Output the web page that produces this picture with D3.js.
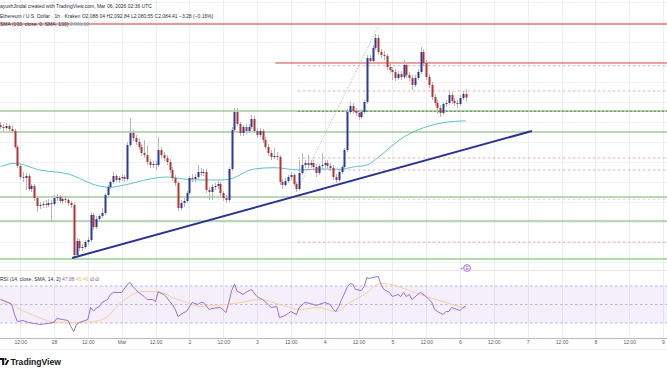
<!DOCTYPE html>
<html>
<head>
<meta charset="utf-8">
<script src="https://cdn.jsdelivr.net/npm/d3@7"></script>
<style>
  body { margin: 0; background: #fff; }
  svg { display: block; font-family: "Liberation Sans", Arial, sans-serif; }
</style>
</head>
<body>
<script>
// ETH/USD 1h, Kraken — first candle Feb 27 05:00 UTC
const firstCandle = Date.UTC(2026, 1, 27, 5);
const hour = 3600 * 1000;

// [open, high, low, close]
const candles = [
  [2057,2060,2053,2055],[2055,2058,2051,2054],[2054,2059,2052,2056],[2056,2058,2051,2053],[2053,2057,2049,2051],
  [2051,2053,2033,2035],[2035,2037,2014,2016],[2016,2018,2002,2005],[2005,2010,2000,2004],[2004,2009,1992,2006],
  [2006,2008,1991,1993],[1993,1998,1990,1996],[1996,1998,1981,1984],[1984,1986,1970,1976],[1976,1980,1973,1977],
  [1977,1981,1974,1978],[1978,1982,1974,1977],[1977,1983,1975,1979],[1979,1982,1960,1978],[1978,1987,1976,1984],
  [1984,1988,1981,1985],[1985,1987,1979,1981],[1981,1985,1978,1983],[1983,1986,1979,1982],[1982,1984,1976,1979],
  [1979,1981,1974,1977],[1977,1979,1925,1927],[1927,1944,1926,1941],[1941,1943,1931,1934],[1934,1938,1931,1935],
  [1935,1942,1933,1940],[1940,1945,1937,1942],[1942,1970,1940,1967],[1967,1969,1952,1955],[1955,1966,1953,1963],
  [1963,1968,1960,1966],[1966,1974,1964,1969],[1969,1989,1967,1987],[1987,1997,1985,1995],[1995,2002,1993,2000],
  [2000,2010,1998,2006],[2006,2008,2000,2002],[2002,2006,1999,2004],[2004,2008,2001,2005],[2005,2007,2000,2003],
  [2003,2040,2001,2037],[2037,2064,2035,2049],[2049,2052,2041,2044],[2044,2047,2037,2040],[2040,2044,2032,2035],
  [2035,2038,2026,2029],[2029,2042,2024,2027],[2027,2037,2017,2020],[2020,2023,2014,2017],[2017,2021,2014,2018],
  [2018,2021,2012,2017],[2017,2045,2015,2032],[2032,2035,2024,2027],[2027,2030,2021,2024],[2024,2027,2017,2020],
  [2020,2023,2009,2012],[2012,2015,2001,2004],[2004,2007,1996,1999],[1999,2001,1971,1974],[1974,1982,1972,1979],
  [1979,1984,1975,1981],[1981,1991,1979,1989],[1989,2006,1987,2004],[2004,2008,2000,2003],[2003,2008,2000,2005],
  [2005,2017,2003,2010],[2010,2014,2006,2009],[2009,2013,2006,2010],[2010,2013,1989,1992],[1992,1995,1982,1990],
  [1990,1998,1982,1995],[1995,1999,1992,1996],[1996,2001,1993,1998],[1998,2000,1986,1989],[1989,1991,1981,1984],
  [1984,1987,1979,1982],[1982,2015,1980,2013],[2013,2055,2011,2052],[2052,2074,2050,2070],[2070,2074,2056,2058],
  [2058,2060,2046,2049],[2049,2057,2046,2055],[2055,2058,2048,2051],[2051,2058,2049,2055],[2055,2067,2053,2063],
  [2063,2066,2049,2051],[2051,2054,2044,2047],[2047,2054,2045,2051],[2051,2053,2039,2042],[2042,2045,2033,2035],
  [2035,2038,2026,2029],[2029,2032,2022,2025],[2025,2034,2023,2026],[2026,2030,2022,2025],[2025,2027,1997,2000],
  [2000,2003,1993,1997],[1997,2004,1995,2001],[2001,2007,1999,2005],[2005,2010,2002,2007],[2007,2009,1996,1998],
  [1998,2000,1990,1993],[1993,2022,1991,2009],[2009,2029,2007,2017],[2017,2022,2014,2019],[2019,2027,2014,2017],
  [2017,2022,2014,2019],[2019,2022,2012,2015],[2015,2018,2005,2009],[2009,2018,2007,2016],[2016,2029,2013,2017],
  [2017,2022,2014,2019],[2019,2022,2013,2016],[2016,2019,2011,2014],[2014,2017,2002,2005],[2005,2008,1999,2002],
  [2002,2012,2000,2010],[2010,2017,2008,2015],[2015,2034,2013,2032],[2032,2073,2030,2070],[2070,2080,2068,2076],
  [2076,2079,2068,2071],[2071,2074,2066,2069],[2069,2072,2062,2065],[2065,2073,2063,2070],[2070,2082,2068,2080],
  [2080,2127,2078,2124],[2124,2127,2118,2121],[2121,2137,2119,2134],[2134,2148,2132,2144],[2144,2147,2127,2130],
  [2130,2133,2124,2127],[2127,2131,2122,2126],[2126,2128,2112,2115],[2115,2118,2109,2112],[2112,2115,2102,2110],
  [2110,2113,2101,2104],[2104,2111,2102,2108],[2108,2111,2102,2105],[2105,2122,2103,2117],[2117,2120,2104,2107],
  [2107,2110,2101,2104],[2104,2107,2092,2097],[2097,2107,2095,2104],[2104,2113,2102,2110],[2110,2135,2108,2130],
  [2130,2133,2116,2119],[2119,2122,2102,2105],[2105,2108,2094,2097],[2097,2100,2082,2085],[2085,2088,2076,2079],
  [2079,2082,2068,2074],[2074,2077,2065,2069],[2069,2080,2067,2078],[2078,2082,2075,2079],[2079,2091,2077,2087],
  [2087,2090,2078,2081],[2081,2084,2076,2079],[2079,2082,2074,2078],[2078,2087,2076,2084],[2084,2091,2082,2088.04],
  [2088.04,2092.84,2080.55,2084.41]
];

// SMA 100 (hours from first candle, value)
const smaHours  = [0, 5, 14, 24, 35, 39, 44, 53, 59, 65, 71, 78, 81, 90, 97, 106, 113, 121, 125, 130, 135, 142, 145, 152, 157, 165];
const smaValues = [2015.3, 2018.7, 2012, 2008, 1996, 1994.7, 1997, 2003, 2005, 2003, 2002, 2002, 2002.7, 2013, 2014.3, 2012, 2013, 2012.7, 2015, 2017, 2027, 2043, 2048, 2056, 2059.3, 2061.18];

// RSI 14
const rsiHours  = [0,2,4,5,6,8,10,12,14,17,19,20,22,24,25,26,27,28,31,32,33,34,35,36,38,39,40,42,43,45,46,47,48,49,51,52,54,55,56,57,58,59,60,61,62,63,65,66,68,70,71,72,74,75,78,80,81,82,83,84,85,86,87,89,91,93,95,96,98,99,101,103,105,106,108,110,112,113,115,117,118,119,120,121,123,124,125,126,128,129,130,131,132,134,135,136,138,139,141,142,143,144,145,146,148,149,151,152,153,154,155,157,158,159,160,161,162,163,164,165];
const rsiValues = [55.4,53.2,50,39.2,31.6,32.7,30.5,29.5,28.4,29.5,30.5,34.9,33.8,32.7,26.2,20.8,28.4,30.5,33.8,46.8,43,46,47.8,52.2,55.4,60.8,63,63,63,71.6,73.8,69.5,66.2,63,58.6,55.4,55.4,53.2,64,62,60.8,57.6,53.2,50,44.6,37,41.4,42.4,52.2,50,52.2,52.2,44.6,45.7,46.8,41.4,52,65,72,64,63,60.8,63,66.2,58.6,55.4,50,46.8,47.8,35.9,38.1,42.4,39.2,46.8,52.2,51.1,48.9,50,52.2,50,44.6,42.4,47.8,55.4,68.4,72.7,71.6,66.2,65.1,69.5,79.2,78.1,79.2,80.3,71.6,66.2,63,58.6,60.8,58.6,63,58.6,60.8,55.4,60.8,63,58.6,55.4,52.2,44.6,42.4,39.2,42.4,42.4,46.8,45.7,44.6,43.5,46.8,47.88];

// RSI-based SMA 14
const rsiMaHours  = [0, 3, 7, 12, 18, 24, 28, 33, 38, 42, 47, 50, 53, 57, 61, 66, 71, 75, 80, 85, 92, 99, 106, 113, 119, 124, 129, 135, 141, 146, 152, 158, 165];
const rsiMaValues = [50, 52.2, 44.6, 38.1, 31.6, 30.5, 30.5, 31.6, 37, 50, 60.8, 64, 64, 63, 57.6, 52.2, 47.8, 48.9, 50, 52.2, 55.4, 50, 44.6, 46.8, 42.4, 52.2, 60.8, 72.7, 69.5, 64, 57.6, 52.2, 45.46];

// drawn levels
const greenLevels = [2071, 2050, 1985, 1961, 1923];
const redLevels = [2158, 2119];
const redLevelFrom = [-10, 97.5];
const pinkDashLevels = [2116.3, 2091, 2024, 2012, 1940];
const greyDashLevel = 1982.7;
const darkDashLevel = 2070.7;
const dashFrom = 105.5;
const trendLine = [[25.4, 1924], [188.5, 2051]];
const projection = [[106.2, 1997], [133.9, 2155]];

const tickLabels = ["12:00","28","12:00","Mar","12:00","2","12:00","3","12:00","4","12:00","5","12:00","6","12:00","7","12:00","8","12:00","9"];
const tickTimes = tickLabels.map((d, i) => new Date(Date.UTC(2026, 1, 27, 12) + i * 12 * hour));

const width = 667, height = 374;
const mainBottom = 268, paneTop = 270, axisY = 338;

const toTime = h => new Date(firstCandle + h * hour);

const x = d3.scaleUtc()
    .domain([new Date(Date.UTC(2026, 1, 28)), new Date(Date.UTC(2026, 2, 9))])
    .range([54, 663]);
const y = d3.scaleLinear().domain([1916, 2182]).range([266, 0]);
const yRsi = d3.scaleLinear().domain([30, 70]).range([323, 286]);

const svg = d3.select("body").append("svg")
    .attr("width", width)
    .attr("height", height);

svg.append("clipPath").attr("id", "main-clip")
  .append("rect").attr("x", 0).attr("y", 0).attr("width", width).attr("height", mainBottom);

// grid
svg.append("g").selectAll("line")
  .data(d3.range(1920, 2181, 20))
  .join("line")
    .attr("x1", 0).attr("x2", width)
    .attr("y1", d => Math.round(y(d)) + 0.5).attr("y2", d => Math.round(y(d)) + 0.5)
    .attr("stroke", "#f0f1f5");

svg.append("g").selectAll("line")
  .data(tickTimes)
  .join("line")
    .attr("x1", d => Math.round(x(d)) + 0.5).attr("x2", d => Math.round(x(d)) + 0.5)
    .attr("y1", 0).attr("y2", axisY)
    .attr("stroke", "#eceef2");

svg.append("line")
    .attr("x1", 0).attr("x2", width).attr("y1", paneTop + 0.5).attr("y2", paneTop + 0.5)
    .attr("stroke", "#e6e8ee");

const main = svg.append("g").attr("clip-path", "url(#main-clip)");

// horizontal levels
main.append("g").selectAll("line")
  .data(greenLevels)
  .join("line")
    .attr("x1", 0).attr("x2", width)
    .attr("y1", d => y(d)).attr("y2", d => y(d))
    .attr("stroke", (d, i) => i === greenLevels.length - 1 ? "#95d18c" : "#74b266")
    .attr("stroke-width", (d, i) => i === greenLevels.length - 1 ? 1.6 : 1);

main.append("g").selectAll("line")
  .data(pinkDashLevels)
  .join("line")
    .attr("x1", x(toTime(dashFrom))).attr("x2", width)
    .attr("y1", d => y(d)).attr("y2", d => y(d))
    .attr("stroke", "#e39a9a")
    .attr("stroke-width", 0.8)
    .attr("stroke-dasharray", "2.5,2.5");

main.append("line")
    .attr("x1", x(toTime(dashFrom))).attr("x2", width)
    .attr("y1", y(greyDashLevel)).attr("y2", y(greyDashLevel))
    .attr("stroke", "#c9ccd6")
    .attr("stroke-width", 0.8)
    .attr("stroke-dasharray", "2.5,2.5");

main.append("line")
    .attr("x1", x(toTime(dashFrom))).attr("x2", width)
    .attr("y1", y(darkDashLevel)).attr("y2", y(darkDashLevel))
    .attr("stroke", "#3e6b38")
    .attr("stroke-width", 0.8)
    .attr("stroke-dasharray", "2,2");

main.append("g").selectAll("line")
  .data(redLevels)
  .join("line")
    .attr("x1", (d, i) => Math.max(0, x(toTime(redLevelFrom[i])))).attr("x2", width)
    .attr("y1", d => y(d)).attr("y2", d => y(d))
    .attr("stroke", (d, i) => i === 0 ? "#c43b3b" : "#e24848")
    .attr("stroke-width", 1.2);

// SMA
main.append("path")
    .datum(smaHours.map((h, i) => [h, smaValues[i]]))
    .attr("fill", "none")
    .attr("stroke", "#5cc3ca")
    .attr("stroke-width", 1)
    .attr("d", d3.line().curve(d3.curveMonotoneX).x(d => x(toTime(d[0]))).y(d => y(d[1])));

// projection dotted line
main.append("line")
    .attr("x1", x(toTime(projection[0][0]))).attr("y1", y(projection[0][1]))
    .attr("x2", x(toTime(projection[1][0]))).attr("y2", y(projection[1][1]))
    .attr("stroke", "#aeb1ba")
    .attr("stroke-width", 0.8)
    .attr("stroke-dasharray", "1.5,1.5");

// candles
const candleG = main.append("g");
candleG.selectAll("line")
  .data(candles)
  .join("line")
    .attr("x1", (d, i) => Math.round(x(toTime(i))) + 0.5)
    .attr("x2", (d, i) => Math.round(x(toTime(i))) + 0.5)
    .attr("y1", d => y(d[1])).attr("y2", d => y(d[2]))
    .attr("stroke", "#b4b7c2");

candleG.selectAll("rect")
  .data(candles)
  .join("rect")
    .attr("x", (d, i) => Math.round(x(toTime(i))) - 0.5)
    .attr("y", d => y(Math.max(d[0], d[3])))
    .attr("width", 2)
    .attr("height", d => Math.max(1, Math.abs(y(d[0]) - y(d[3]))))
    .attr("fill", d => d[3] >= d[0] ? "#2b3a9c" : "#b8312d");

// trend line
main.append("line")
    .attr("x1", x(toTime(trendLine[0][0]))).attr("y1", y(trendLine[0][1]))
    .attr("x2", x(toTime(trendLine[1][0]))).attr("y2", y(trendLine[1][1]))
    .attr("stroke", "#2c3393")
    .attr("stroke-width", 2);

// event marker
const mark = svg.append("g").attr("transform", `translate(${x(toTime(165.5))},268)`);
mark.append("circle").attr("r", 3.4).attr("fill", "#fff").attr("stroke", "#9b59d0").attr("stroke-width", 0.9);
mark.append("text").attr("text-anchor", "middle").attr("y", 1.8).attr("font-size", 5).attr("fill", "#9b59d0").text("E");
mark.append("text").attr("x", -5.5).attr("y", 1.6).attr("text-anchor", "middle").attr("font-size", 5).attr("fill", "#9b59d0").text("+");

// RSI pane
svg.append("rect")
    .attr("x", 0).attr("width", width)
    .attr("y", yRsi(70)).attr("height", yRsi(30) - yRsi(70))
    .attr("fill", "#9c5fd6").attr("fill-opacity", 0.1);

svg.append("g").selectAll("line")
  .data([70, 50, 30])
  .join("line")
    .attr("x1", 0).attr("x2", width)
    .attr("y1", d => yRsi(d)).attr("y2", d => yRsi(d))
    .attr("stroke", "#b3a6cc")
    .attr("stroke-dasharray", "2.5,2.5")
    .attr("stroke-width", 0.8);

svg.append("path")
    .datum(rsiMaHours.map((h, i) => [h, rsiMaValues[i]]))
    .attr("fill", "none")
    .attr("stroke", "#f6d29a")
    .attr("stroke-width", 1)
    .attr("d", d3.line().curve(d3.curveMonotoneX).x(d => x(toTime(d[0]))).y(d => yRsi(d[1])));

svg.append("path")
    .datum(rsiHours.map((h, i) => [h, rsiValues[i]]))
    .attr("fill", "none")
    .attr("stroke", "#9673c9")
    .attr("stroke-width", 1)
    .attr("d", d3.line().x(d => x(toTime(d[0]))).y(d => yRsi(d[1])));

// time axis
svg.append("line")
    .attr("x1", 0).attr("x2", width).attr("y1", axisY + 0.5).attr("y2", axisY + 0.5)
    .attr("stroke", "#b8bbc4");
svg.append("line")
    .attr("x1", 0).attr("x2", width).attr("y1", 349.5).attr("y2", 349.5)
    .attr("stroke", "#eef0f4");

const xAxis = d3.axisBottom(x)
    .tickValues(tickTimes)
    .tickFormat((d, i) => tickLabels[i])
    .tickSize(0)
    .tickPadding(2);

const axisG = svg.append("g")
    .attr("transform", `translate(0,${axisY})`)
    .call(xAxis);
axisG.select(".domain").remove();
axisG.selectAll("text")
    .attr("font-family", "Liberation Sans, Arial, sans-serif")
    .attr("font-size", 5)
    .attr("fill", "#555a66");

// header
const header = svg.append("g").attr("font-size", 5).attr("fill", "#2a2e39");
header.append("text").attr("x", 0).attr("y", 7.6)
    .text("ayushJindal created with TradingView.com, Mar 06, 2026 02:36 UTC");
header.append("text").attr("x", 0).attr("y", 18.4)
    .text("Ethereum / U.S. Dollar · 1h · Kraken  O2,088.04 H2,092.84 L2,080.55 C2,084.41 −3.28 (−0.16%)");
const smaLabel = header.append("text").attr("x", 0).attr("y", 25.8);
smaLabel.append("tspan").text("SMA (100, close, 0, SMA, 100)  ");
smaLabel.append("tspan").attr("fill", "#4fb9c2").text("2,061.18");

const rsiLabel = header.append("text").attr("x", 0).attr("y", 281);
rsiLabel.append("tspan").text("RSI (14, close, SMA, 14, 2)  ");
rsiLabel.append("tspan").attr("fill", "#8c62c0").text("47.88  ");
rsiLabel.append("tspan").attr("fill", "#efc06a").text("45.46  ");
rsiLabel.append("tspan").text("∅  ∅");

// logo
const logo = svg.append("g").attr("fill", "#131722");
logo.append("path").attr("d", "M0,358 h4.2 v7 h-2.1 v-4.9 h-2.1 z");
logo.append("circle").attr("cx", 5.6).attr("cy", 359.2).attr("r", 1.1);
logo.append("path").attr("d", "M4.6,365 l2.6,-4.9 h2.1 l-2.6,4.9 z");
logo.append("text").attr("x", 10.5).attr("y", 364.8)
    .attr("font-size", 8.6).attr("font-weight", "bold")
    .text("TradingView");
</script>
</body>
</html>
